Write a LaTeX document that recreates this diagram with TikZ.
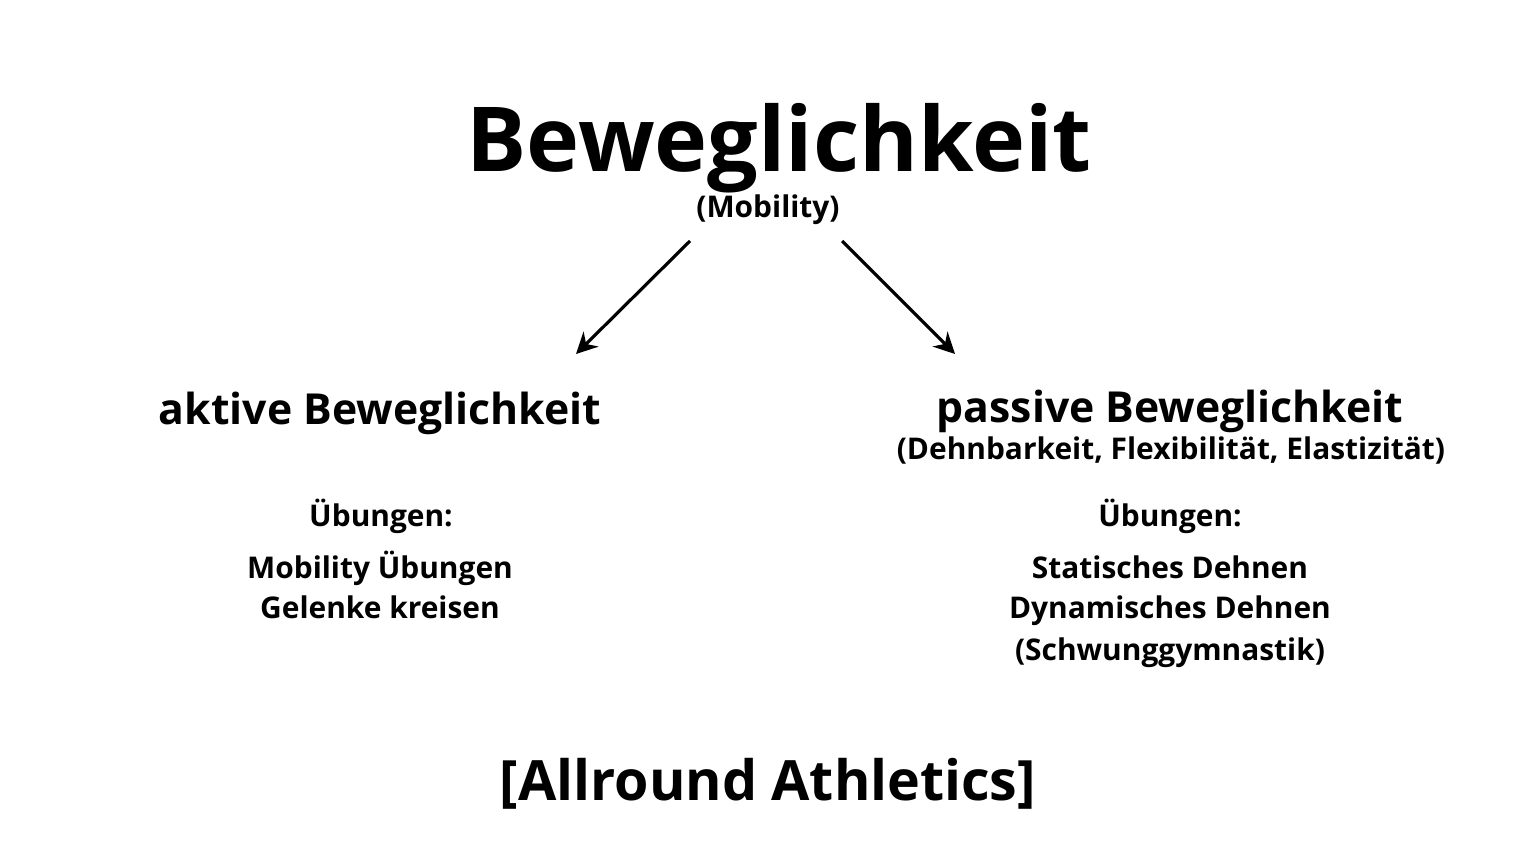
\documentclass[tikz,border=0pt]{standalone}
\usepackage{fontspec}
\setmainfont{Open Sans}[BoldFont={Open Sans Bold}]
\usetikzlibrary{arrows.meta, positioning}

\begin{document}
\begin{tikzpicture}[x=0.01cm,y=-0.01cm,every node/.style={inner sep=0pt,anchor=base,font=\bfseries}]

\tikzstyle{title}=[font=\fontsize{25.5}{30}\selectfont\bfseries];
\tikzstyle{head}=[font=\fontsize{12.15}{14}\selectfont\bfseries];
\tikzstyle{small}=[font=\fontsize{8.5}{10}\selectfont\bfseries];
\tikzstyle{pfeil}=[-{Stealth[length=6pt,width=6pt]},line width=0.9pt];

\useasboundingbox (0,0) rectangle (1536,864);

\node(BEW) [title] at (779,172) {Beweglichkeit};
\node(MOB) [small] at (768,218) {(Mobility)};

\node(AKT) [head] at (380,425) {aktive Beweglichkeit};
\node(UEA) [small] at (381,527) {Übungen:};
\node(MUE) [small] at (380,578) {Mobility Übungen};
\node(GEL) [small] at (380,619) {Gelenke kreisen};

\node(PAS) [head] at (1170,423) {passive Beweglichkeit};
\node(DEH) [small] at (1171,460) {(Dehnbarkeit, Flexibilität, Elastizität)};
\node(UEP) [small] at (1170,527) {Übungen:};
\node(STA) [small] at (1170,578) {Statisches Dehnen};
\node(DYN) [small] at (1170,619) {Dynamisches Dehnen};
\node(SCH) [small] at (1170,660) {(Schwunggymnastik)};

\node(ALL) [font=\fontsize{15.8}{19}\selectfont\bfseries] at (768,800) {[Allround Athletics]};

\coordinate (LA) at (690,241);
\coordinate (LE) at (576,354);
\coordinate (RA) at (842,241);
\coordinate (RE) at (955,354);
\draw[pfeil] (LA) -- (LE);
\draw[pfeil] (RA) -- (RE);

\end{tikzpicture}
\end{document}
